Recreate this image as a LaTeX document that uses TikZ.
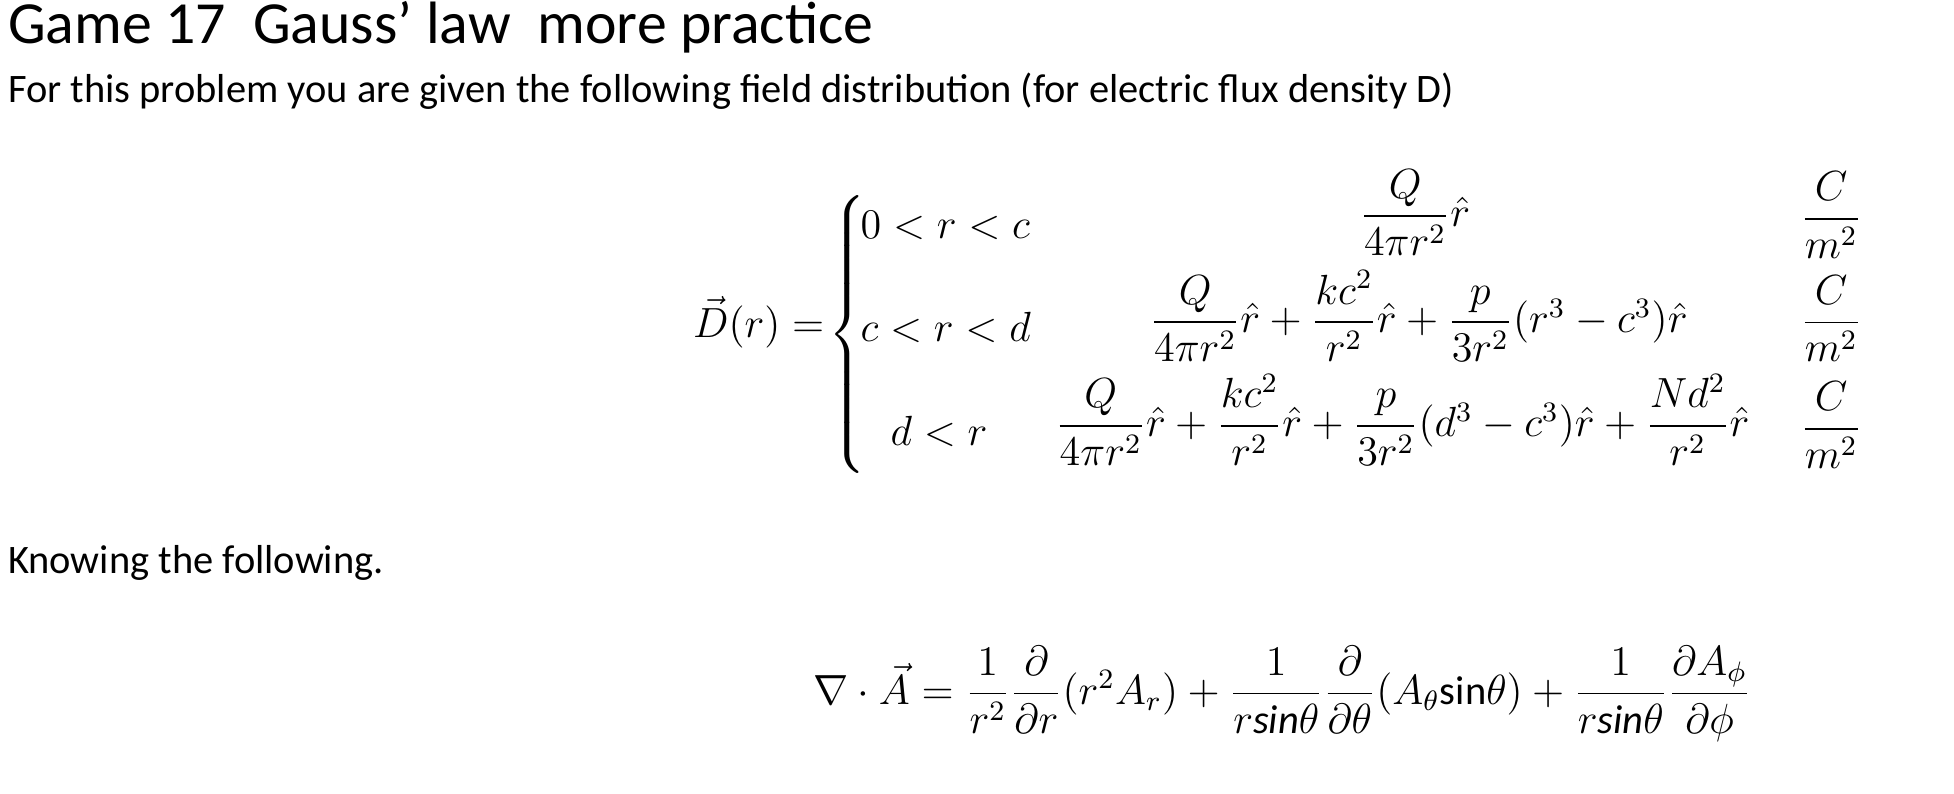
\documentclass[tikz,border=0pt]{standalone}
\usepackage{amsmath}
\usepackage{fontspec}
\setmainfont{Carlito}
\begin{document}
\begin{tikzpicture}[x=0.0125cm,y=-0.0125cm,
  eq/.style={inner sep=0pt,font=\fontsize{11.5}{14}\selectfont},
  txt/.style={inner sep=0pt,anchor=west}]
\useasboundingbox (0,0) rectangle (1563.2,635.2);
\node[txt,font=\fontsize{17}{20}\selectfont] (title) at (6,22) {Game 17\ \ Gauss’ law\ \ more practice};
\node[txt,font=\fontsize{11.5}{14}\selectfont] (sub) at (6,73) {For this problem you are given the following field distribution (for electric flux density D)};
\node[eq,anchor=east] (D) at (660,258) {$\vec{D}(r)=$};
\node[eq,anchor=west] (br) at (662,268) {$\left\{\rule[-1.3cm]{0pt}{2.6cm}\right.$};
\node[eq,anchor=west] (c1) at (688,180) {$0<r<c$};
\node[eq,anchor=west] (c2) at (688,262) {$c<r<d$};
\node[eq,anchor=west] (c3) at (712,345) {$d<r$};
\node[eq] (e1) at (1132,170) {$\dfrac{Q}{4\pi r^2}\hat{r}$};
\node[eq] (e2) at (1135,253) {$\dfrac{Q}{4\pi r^2}\hat{r}+\dfrac{kc^2}{r^2}\hat{r}+\dfrac{p}{3r^2}(r^3-c^3)\hat{r}$};
\node[eq] (e3) at (1122,336) {$\dfrac{Q}{4\pi r^2}\hat{r}+\dfrac{kc^2}{r^2}\hat{r}+\dfrac{p}{3r^2}(d^3-c^3)\hat{r}+\dfrac{Nd^2}{r^2}\hat{r}$};
\node[eq] (u1) at (1465,172) {$\dfrac{C}{m^2}$};
\node[eq] (u2) at (1465,255) {$\dfrac{C}{m^2}$};
\node[eq] (u3) at (1465,340) {$\dfrac{C}{m^2}$};
\node[txt,font=\fontsize{11.5}{14}\selectfont] (know) at (6,450) {Knowing the following.};
\node[eq,anchor=west] (div) at (650,555) {$\nabla\cdot\vec{A}=\dfrac{1}{r^2}\dfrac{\partial}{\partial r}(r^2A_r)+\dfrac{1}{r\mathit{sin}\theta}\dfrac{\partial}{\partial\theta}(A_\theta\mathrm{sin\theta})+\dfrac{1}{r\mathit{sin}\theta}\dfrac{\partial A_\phi}{\partial\phi}$};
\end{tikzpicture}
\end{document}
